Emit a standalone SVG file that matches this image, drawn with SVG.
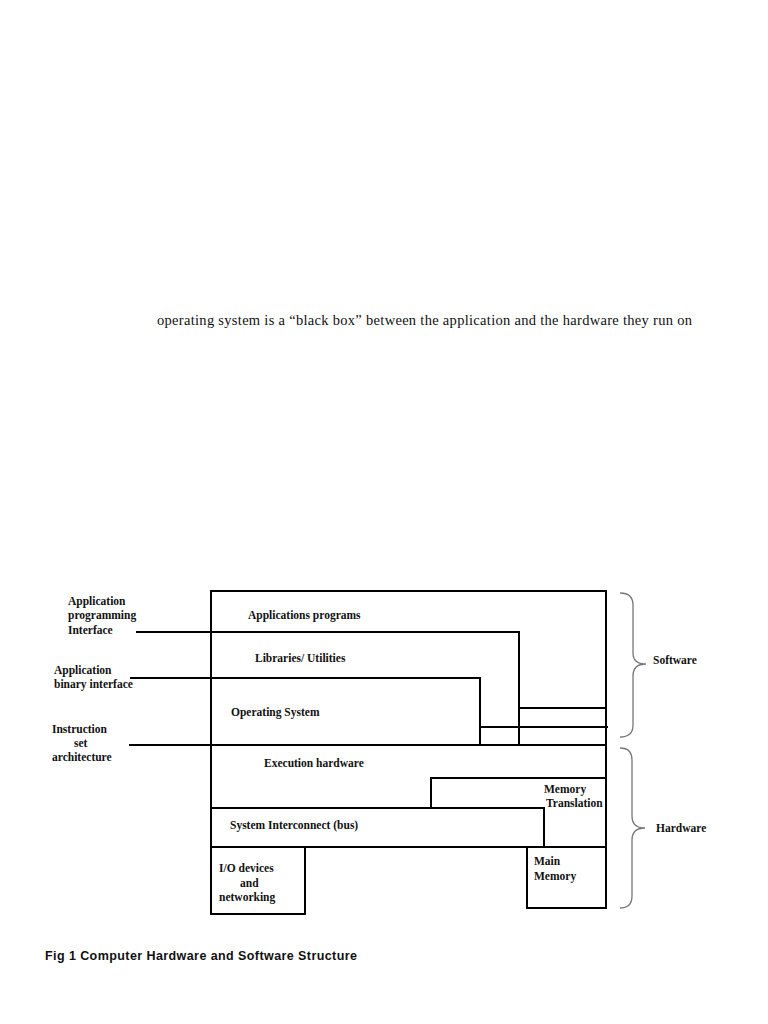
<svg xmlns="http://www.w3.org/2000/svg" width="768" height="1024" viewBox="0 0 768 1024">
<style>
.l{stroke:#000;stroke-width:2;fill:none;stroke-linecap:square}
.t{font-family:"Liberation Serif",serif;font-weight:bold;font-size:11.5px;fill:#111}
.b{stroke:#777;stroke-width:1.3;fill:none}
</style>
<rect width="768" height="1024" fill="#fff"/>
<text x="157" y="325" font-family="Liberation Serif, serif" font-size="14.5" fill="#111" textLength="535">operating system is a “black box” between the application and the hardware they run on</text>
<g id="connectors">
<path class="l" d="M211,591 H606 V908"/>
<path class="l" d="M211,591 V914"/>
<path class="l" d="M137,632 H519 V744"/>
<path class="l" d="M131,678 H480 V744"/>
<path class="l" d="M130,745 H605"/>
<path class="l" d="M519,708 H606"/>
<path class="l" d="M480,727 H607"/>
<path class="l" d="M431,808 V778 H606"/>
<path class="l" d="M211,808 H544 V847"/>
<path class="l" d="M211,847 H606"/>
<path class="l" d="M211,914 H305 V847"/>
<path class="l" d="M527,847 V908 H606"/>
</g>
<g id="api"><text class="t" x="68" y="605">Application</text><text class="t" x="68" y="619">programming</text><text class="t" x="68" y="634">Interface</text></g>
<g id="abi"><text class="t" x="54" y="674">Application</text><text class="t" x="54" y="688">binary interface</text></g>
<g id="isa"><text class="t" x="52" y="733">Instruction</text><text class="t" x="74" y="747">set</text><text class="t" x="52" y="761">architecture</text></g>
<g id="apps"><text class="t" x="248" y="619">Applications programs</text></g>
<g id="libs"><text class="t" x="255" y="662">Libraries/ Utilities</text></g>
<g id="os"><text class="t" x="231" y="716">Operating System</text></g>
<g id="exec"><text class="t" x="264" y="767">Execution hardware</text></g>
<g id="memtrans"><text class="t" x="544" y="793">Memory</text><text class="t" x="546" y="807">Translation</text></g>
<g id="bus"><text class="t" x="230" y="829">System Interconnect (bus)</text></g>
<g id="io"><text class="t" x="219" y="872">I/O devices</text><text class="t" x="240" y="887">and</text><text class="t" x="219" y="901">networking</text></g>
<g id="mainmem"><text class="t" x="534" y="865">Main</text><text class="t" x="534" y="880">Memory</text></g>
<g id="software">
<path class="b" d="M620,593 Q633,593 633,605 V653 Q633,664 646,664 Q633,664 633,676 V725 Q633,737 620,737"/>
<text class="t" x="653" y="664">Software</text>
</g>
<g id="hardware">
<path class="b" d="M620,748 Q632,748 632,760 V816 Q632,828 645,828 Q632,828 632,840 V896 Q632,908 620,908"/>
<text class="t" x="656" y="832">Hardware</text>
</g>
<text x="45" y="960" font-family="Liberation Sans, sans-serif" font-weight="bold" font-size="12.5" fill="#111" textLength="312">Fig 1  Computer Hardware and Software Structure</text>
</svg>
